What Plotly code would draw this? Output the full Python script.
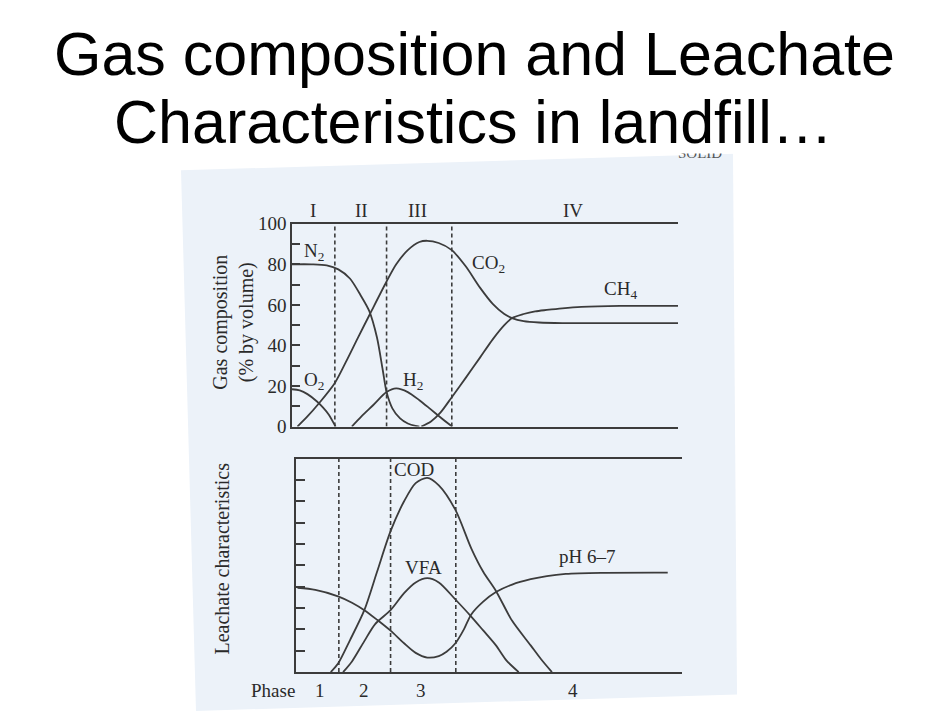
import plotly.graph_objects as go

# okno 931x727, strona HTML ma margines 8 px
W, H = 915, 711
OFF = 8

# granice faz (os czasu 0-100)
phase_bounds = [11.1, 24.5, 41.4]
phase_top = ["I", "II", "III", "IV"]
phase_top_x = [5.4, 18.0, 32.6, 72.8]
phase_bottom = ["1", "2", "3", "4"]
phase_bottom_x = [6.1, 17.7, 32.5, 71.8]

# sklad gazu (% obj.)
o2_x = [0, 2, 4, 6.4, 8, 9.5, 11.3]
o2_y = [18.4, 17.8, 16, 12.5, 9.5, 6, 0]

n2_x = [0, 5, 9, 12, 15, 18, 20, 22, 23.5, 24.5, 26, 28, 30, 32, 33]
n2_y = [80, 80, 79.5, 77.5, 73, 64, 57, 44, 28, 17, 9, 4, 1.5, 0.3, 0]

co2_x = [1.4, 4, 7, 11.1, 14, 17, 20.2, 24.5, 27, 30, 33, 35, 38, 41.4, 45, 48.7,
         52, 55, 57, 60, 64, 70, 80, 100]
co2_y = [0, 5, 11.5, 21.5, 32, 43.5, 55.5, 71.5, 80, 87, 91, 91.6, 90.5, 87, 79, 68.5,
         60.5, 55.5, 53.5, 52, 51.3, 51, 51, 51]

h2_x = [15.5, 18, 21, 24.5, 27, 30, 33, 35.8, 38.5, 41.5]
h2_y = [0, 5, 10.5, 17, 18.8, 17, 13, 8.7, 4.5, 0]

ch4_x = [33.5, 36, 38.5, 41.4, 45, 48.7, 52, 55, 57, 60, 63, 66, 70, 75, 85, 100]
ch4_y = [0, 2.5, 7, 14.5, 24, 34, 43, 50, 53.5, 55.5, 56.8, 57.5, 58.3, 59, 59.5, 59.5]

# odciek (skala wzgledna)
ph_x = [0.4, 5, 10.9, 14.5, 17.7, 21, 24.5, 28, 31, 34, 37, 39, 41.3, 43.5, 45.4,
        48.5, 51.8, 56, 60.8, 65, 69.9, 79, 96.3]
ph_y = [39.5, 38.5, 35.5, 32.5, 29, 24.5, 19.4, 13.5, 9, 6.8, 7.5, 9.5, 13.5, 20, 27,
        33, 37.5, 41, 43.5, 45, 46, 46.5, 46.6]

cod_x = [9.0, 10.9, 14, 17.7, 21, 24.5, 28, 31, 34, 37, 41.3, 45.4, 48.5, 51.8, 56,
         60.8, 63.5, 66.3]
cod_y = [0, 4, 15, 29, 47, 66, 80, 88.5, 91, 87.5, 76, 58, 47, 38, 24, 12.5, 6, 0]

vfa_x = [12.2, 14.5, 17.7, 20.5, 24.5, 28, 31, 34, 37, 41.3, 45.4, 48.5, 51.8, 54.5, 57.7]
vfa_y = [0, 5, 14.5, 22.5, 29, 37, 42, 44, 42, 34, 26, 19.5, 12.5, 5.5, 0]

INK = "#3c3c3c"
TXT = "#2a2a2a"
SERIF = "Liberation Serif"


def px(x):
    return (x - OFF) / W


def py(y):
    return 1 - (y - OFF) / H


fig = go.Figure()

for xs, ys in [(o2_x, o2_y), (n2_x, n2_y), (co2_x, co2_y), (h2_x, h2_y), (ch4_x, ch4_y)]:
    fig.add_trace(go.Scatter(x=xs, y=ys, mode="lines", xaxis="x", yaxis="y",
                             line=dict(color=INK, width=1.8, shape="spline", smoothing=0.8),
                             hoverinfo="skip", showlegend=False))

for xs, ys in [(ph_x, ph_y), (cod_x, cod_y), (vfa_x, vfa_y)]:
    fig.add_trace(go.Scatter(x=xs, y=ys, mode="lines", xaxis="x2", yaxis="y2",
                             line=dict(color=INK, width=1.8, shape="spline", smoothing=0.8),
                             hoverinfo="skip", showlegend=False))

# tlo zeskanowanej strony
shapes = [dict(type="path", xref="paper", yref="paper", layer="below",
               path=f"M {px(181)},{py(165)} L {px(733)},{py(148)} L {px(737)},{py(705)} "
                    f"L {px(196)},{py(722)} Z",
               fillcolor="#ecf2f9", line=dict(width=0))]

# przerywane granice faz
for b in phase_bounds:
    for xr, yr in [("x", "y"), ("x2", "y2")]:
        shapes.append(dict(type="line", xref=xr, yref=yr, x0=b, x1=b, y0=0, y1=100,
                           line=dict(color=INK, width=1.6, dash="4px,3px")))

ann = []
font = dict(family=SERIF, size=19, color=TXT)
C = dict(xanchor="center", yanchor="middle", showarrow=False)

# obciety napis ze skanu (widoczna tylko dolna polowa)
ann.append(dict(text="SOLID", xref="paper", yref="paper", x=px(700), y=py(147),
                font=dict(family=SERIF, size=15, color="#555"), **C))
ann.append(dict(text=" ", xref="paper", yref="paper", x=px(700), y=py(138),
                bgcolor="white", width=90, height=16, **C))

ann.append(dict(text="Gas composition and Leachate", xref="paper", yref="paper",
                x=px(475), y=py(45),
                font=dict(family="Liberation Sans", size=61, color="black"), **C))
ann.append(dict(text="Characteristics in landfill…", xref="paper", yref="paper",
                x=px(473), y=py(115),
                font=dict(family="Liberation Sans", size=61, color="black"), **C))

for t, x in zip(phase_top, phase_top_x):
    ann.append(dict(text=t, xref="x", yref="paper", x=x, y=py(206), font=font, **C))
for t, x in zip(phase_bottom, phase_bottom_x):
    ann.append(dict(text=t, xref="x2", yref="paper", x=x, y=py(701), font=font, **C))
ann.append(dict(text="Phase", xref="paper", yref="paper", x=px(273), y=py(701),
                font=font, **C))

labels_top = [("N<sub>2</sub>", 5.8, 86), ("O<sub>2</sub>", 5.8, 22.5), ("H<sub>2</sub>", 31.4, 22.5),
              ("CO<sub>2</sub>", 50.8, 80), ("CH<sub>4</sub>", 85, 67.5)]
for t, x, y in labels_top:
    ann.append(dict(text=t, xref="x", yref="y", x=x, y=y, font=font, **C))

labels_bottom = [("COD", 30.6, 95), ("VFA", 33.1, 49), ("pH 6–7", 75.4, 54)]
for t, x, y in labels_bottom:
    ann.append(dict(text=t, xref="x2", yref="y2", x=x, y=y, font=font, **C))

ann.append(dict(text="Gas composition<br>(% by volume)", xref="paper", yref="paper",
                x=px(234), y=py(322), textangle=-90,
                font=dict(family=SERIF, size=20, color=TXT), **C))
ann.append(dict(text="Leachate characteristics", xref="paper", yref="paper",
                x=px(222), y=py(565), textangle=-90,
                font=dict(family=SERIF, size=20, color=TXT), **C))

axis_common = dict(range=[0, 100], showgrid=False, zeroline=False, showline=True,
                   linecolor=INK, linewidth=1.6)

fig.update_layout(
    width=W, height=H, autosize=False,
    margin=dict(l=0, r=0, t=0, b=0),
    paper_bgcolor="white", plot_bgcolor="rgba(0,0,0,0)",
    xaxis=dict(domain=[px(292), px(678)], anchor="y", mirror=True,
               showticklabels=False, ticks="", **axis_common),
    yaxis=dict(domain=[py(429), py(220)], anchor="x", ticks="inside", ticklen=8,
               tickcolor=INK, tickwidth=1.5,
               tickvals=list(range(0, 101, 10)),
               ticktext=["0", "", "20", "", "40", "", "60", "", "80", "", "100"],
               tickfont=dict(family=SERIF, size=19, color=TXT), **axis_common),
    xaxis2=dict(domain=[px(296), px(682)], anchor="y2", mirror=True,
                showticklabels=False, ticks="", **axis_common),
    yaxis2=dict(domain=[py(682), py(462)], anchor="x2", ticks="inside", ticklen=9,
                tickcolor=INK, tickwidth=1.5,
                tickvals=list(range(10, 100, 10)), showticklabels=False, **axis_common),
    shapes=shapes,
    annotations=ann,
)

fig.write_html("out.html")
